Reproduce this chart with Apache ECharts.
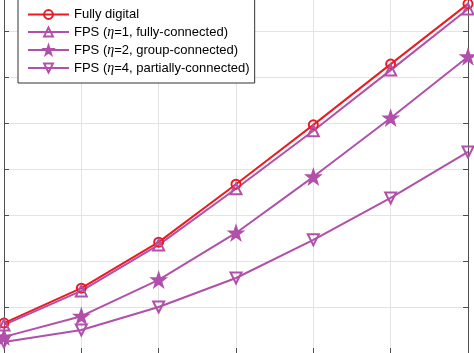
<!DOCTYPE html>
<html>
<head>
<meta charset="utf-8">
<script src="https://cdn.jsdelivr.net/npm/echarts@6/dist/echarts.min.js"></script>
<style>
  html, body { margin: 0; padding: 0; background: #fff; overflow: hidden; }
  /* the top of the plot is cut off in the picture, so the canvas starts above the page */
  #chart { width: 474px; height: 370px; margin-top: -15px; }
</style>
</head>
<body>
<div id="chart"></div>
<script>
// x positions (the tick labels are cropped out of the picture)
const xPoints = [0, 1, 2, 3, 4, 5, 6]
// values in grid units
const fullyDigital = [0.65, 1.41, 2.41, 3.67, 4.96, 6.28, 7.59]
const fpsEta1 = [0.61, 1.35, 2.35, 3.57, 4.83, 6.15, 7.48]
const fpsEta2 = [0.35, 0.80, 1.59, 2.61, 3.83, 5.11, 6.44]
const fpsEta4 = [0.24, 0.50, 1.00, 1.63, 2.46, 3.37, 4.37]
const seriesNames = [
    'Fully digital',
    'FPS (η=1, fully-connected)',
    'FPS (η=2, group-connected)',
    'FPS (η=4, partially-connected)'
]

const red = '#ec1a22'
const purple = '#b150aa'
const axisColor = '#4d4d4d'

const pairs = arr => xPoints.map((x, i) => [x, arr[i]])

const chart = echarts.init(document.getElementById('chart'))

function makeSeries(name, data, color, symbol, size, filled) {
    return {
        name: name,
        type: 'line',
        data: pairs(data),
        symbol: symbol,
        symbolSize: size,
        showAllSymbol: true,
        lineStyle: { color: color, width: 2 },
        itemStyle: {
            color: filled ? color : 'rgba(255,255,255,0)',
            borderColor: color,
            borderWidth: 2
        },
        emphasis: { disabled: true },
        z: 3
    }
}

const starPath = 'path://M50,0 L61.8,35.1 L98.9,35.5 L69.1,57.6 L80.2,93.1 L50,71.7 L19.8,93.1 L30.9,57.6 L1.1,35.5 L38.2,35.1 Z'
const downTri = 'path://M0,0 L100,0 L50,86.6 Z'

chart.setOption({
    animation: false,
    grid: { left: 4, right: 6, top: 0, bottom: 2 },
    legend: {
        orient: 'vertical',
        left: 18,
        top: 11,
        padding: [12, 5, 8, 9],
        itemWidth: 41,
        itemHeight: 11,
        itemGap: 4,
        backgroundColor: '#fff',
        borderColor: '#333',
        borderWidth: 1,
        borderRadius: 0,
        data: seriesNames,
        formatter: function (name) {
            const m = name.match(/^(.*)η(.*)$/)
            if (!m) return '{n|' + name + '}'
            return '{n|' + m[1] + '}{i|η}{n|' + m[2] + '}'
        },
        textStyle: {
            rich: {
                n: { fontFamily: 'Liberation Sans, Arial', fontSize: 13, color: '#000' },
                i: { fontFamily: 'Liberation Serif, Times New Roman', fontStyle: 'italic', fontSize: 14, color: '#000' }
            }
        }
    },
    xAxis: {
        type: 'value',
        min: 0,
        max: 6,
        interval: 1,
        axisLine: { show: true, lineStyle: { color: axisColor, width: 1 } },
        axisTick: { show: true, inside: true, length: 5, lineStyle: { color: axisColor } },
        axisLabel: { show: false },
        splitLine: { show: true, lineStyle: { color: '#e3e3e3', width: 1 } }
    },
    yAxis: [{
        type: 'value',
        min: 0,
        max: 8,
        interval: 1,
        axisLine: { show: true, lineStyle: { color: axisColor, width: 1 } },
        axisTick: { show: true, inside: true, length: 5, lineStyle: { color: axisColor } },
        axisLabel: { show: false },
        splitLine: { show: true, lineStyle: { color: '#e3e3e3', width: 1 } }
    }, {
        type: 'value',
        position: 'right',
        min: 0,
        max: 8,
        interval: 1,
        axisLine: { show: true, lineStyle: { color: axisColor, width: 1 } },
        axisTick: { show: true, inside: true, length: 5, lineStyle: { color: axisColor } },
        axisLabel: { show: false },
        splitLine: { show: false }
    }],
    series: [
        makeSeries(seriesNames[0], fullyDigital, red, 'circle', 9, false),
        makeSeries(seriesNames[1], fpsEta1, purple, 'triangle', 11, false),
        makeSeries(seriesNames[2], fpsEta2, purple, starPath, 13, true),
        makeSeries(seriesNames[3], fpsEta4, purple, downTri, 11, false)
    ]
})
</script>
</body>
</html>
